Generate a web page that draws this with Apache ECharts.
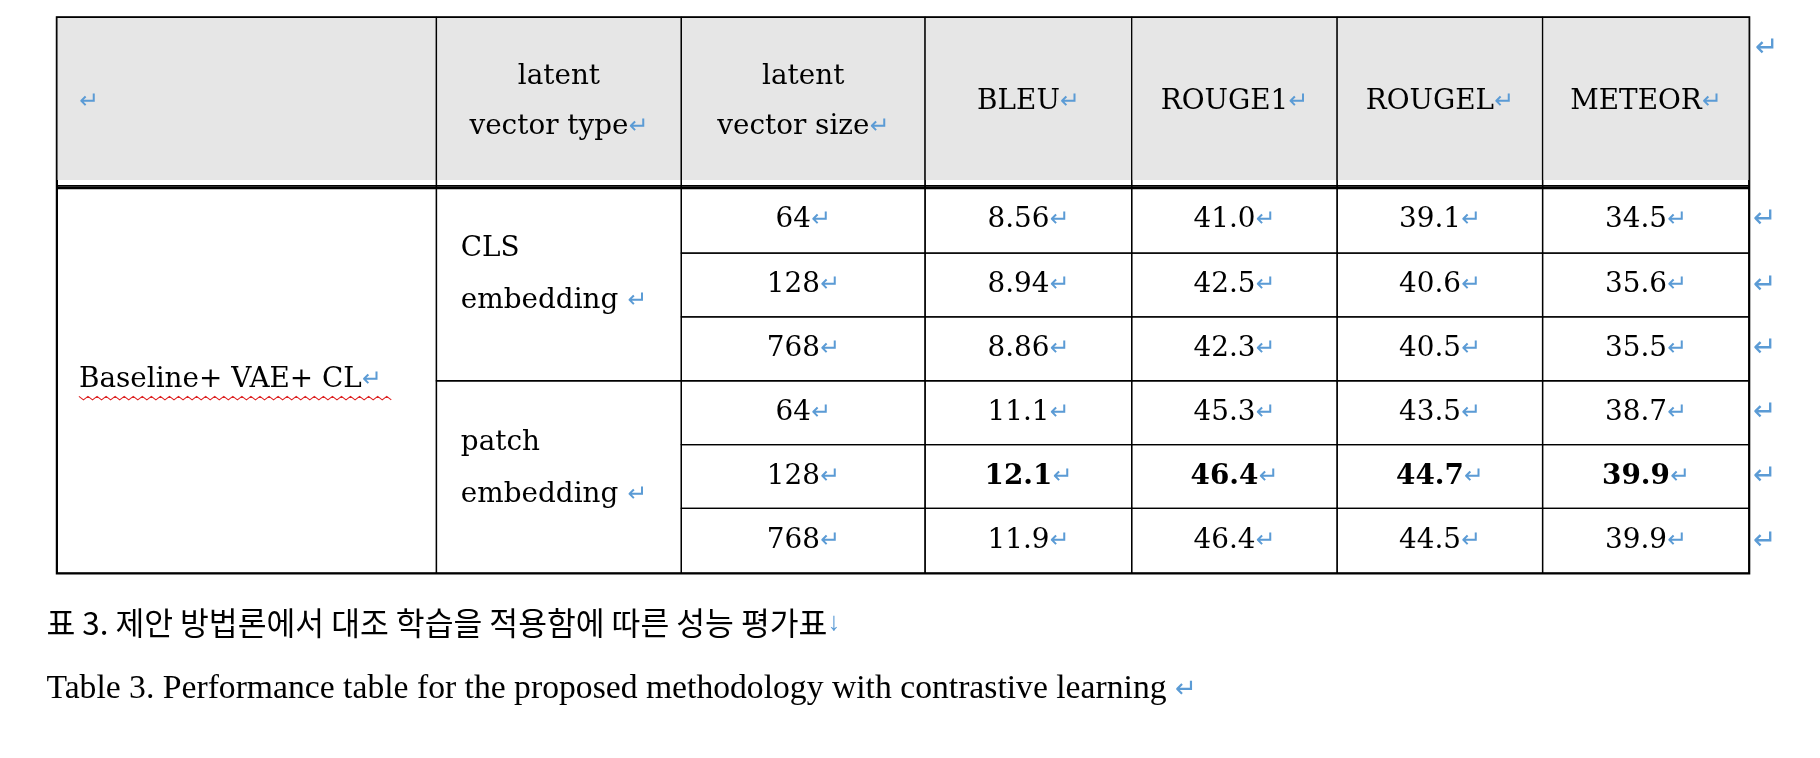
<!DOCTYPE html>
<html><head><meta charset="utf-8">
<script src="https://cdn.jsdelivr.net/npm/echarts@6/dist/echarts.min.js"></script>
<style>html,body{margin:0;background:#fff}#c{width:1820px;height:758px}</style>
</head><body><div id="c"></div>
<script>
// 표 데이터
const headers = ['', 'latent\nvector type', 'latent\nvector size', 'BLEU', 'ROUGE1', 'ROUGEL', 'METEOR']
const method = 'Baseline+ VAE+ CL'
const vecTypes = ['CLS\nembedding ', 'patch\nembedding ']
const vecSizes = ['64', '128', '768', '64', '128', '768']
const bleu   = ['8.56', '8.94', '8.86', '11.1', '12.1', '11.9']
const rouge1 = ['41.0', '42.5', '42.3', '45.3', '46.4', '46.4']
const rougeL = ['39.1', '40.6', '40.5', '43.5', '44.7', '44.5']
const meteor = ['34.5', '35.6', '35.5', '38.7', '39.9', '39.9']
const boldRow = 4
const captionKo = '표 3. 제안 방법론에서 대조 학습을 적용함에 따른 성능 평가표'
const captionEn = 'Table 3. Performance table for the proposed methodology with contrastive learning '

// 레이아웃 (기준 좌표 1568 x 653)
const W = 1568, H = 653
const colEdges = [49, 376, 587, 797, 975, 1152, 1329, 1507]
const rowEdges = [15, 160, 218, 273, 328, 383, 438, 494]
const S = 1820 / W
const FS = 24 * S
const FONT = 'DejaVu Serif'
const ARROW = '#5b9bd5'

// 셀 목록 만들기: [c0, c1, r0, r1, text, align, bold, header]
let cells = []
headers.forEach((h, i) => cells.push([i, i + 1, 0, 1, h, i === 0 ? 'left' : 'center', false, true]))
cells.push([0, 1, 1, 7, method, 'left', false, false])
vecTypes.forEach((t, i) => cells.push([1, 2, 1 + i * 3, 4 + i * 3, t, 'left', false, false]))
const cols = [vecSizes, bleu, rouge1, rougeL, meteor]
cols.forEach((arr, ci) => arr.forEach((v, ri) => cells.push([2 + ci, 3 + ci, 1 + ri, 2 + ri, v, 'center', ci > 0 && ri === boldRow, false])))

function renderCell(params, api) {
  const d = cells[params.dataIndex]
  const p0 = api.coord([colEdges[d[0]], rowEdges[d[2]]])
  const p1 = api.coord([colEdges[d[1]], rowEdges[d[3]]])
  const w = p1[0] - p0[0], h = p1[1] - p0[1]
  const children = []
  if (d[7]) children.push({type: 'rect', shape: {x: p0[0], y: p0[1], width: w, height: h - 5 * S}, style: {fill: '#e6e6e6'}})
  children.push({type: 'rect', shape: {x: p0[0], y: p0[1], width: w, height: h}, style: {fill: 'none', stroke: '#000', lineWidth: 1.3}})
  const lines = d[4].split('\n')
  const txt = lines.map(l => `{${d[6] ? 'b' : 't'}|${l}}`).join('\n') + '{r|↵}'
  const left = d[5] === 'left'
  let tx = left ? p0[0] + (d[0] === 0 ? 19 : 21) * S : p0[0] + w / 2
  children.push({type: 'text', style: {
    x: tx, y: p0[1] + h / 2 + (d[0] === 1 && !d[7] ? -7 * S : 0),
    text: txt, align: left ? 'left' : 'center', verticalAlign: 'middle',
    rich: {
      t: {fontFamily: FONT, fontSize: FS, fill: '#000', lineHeight: (d[0] === 1 && !d[7] ? 45 : 43) * S},
      b: {fontFamily: FONT, fontSize: FS, fontWeight: 'bold', fill: '#000', lineHeight: 43 * S},
      r: {fontSize: FS * 0.85, fill: ARROW, fontFamily: 'DejaVu Sans'}
    }
  }})
  return {type: 'group', children}
}

const chart = echarts.init(document.getElementById('c'))
const x0 = colEdges[0] * S, x1 = colEdges[7] * S
const hy = rowEdges[1] * S
chart.setOption({
  animation: false,
  grid: {left: 0, right: 0, top: 0, bottom: 0},
  xAxis: {type: 'value', min: 0, max: W, show: false},
  yAxis: {type: 'value', min: 0, max: H, inverse: true, show: false},
  series: [{type: 'custom', renderItem: renderCell, data: cells.map((c, i) => [i]), silent: true}],
  graphic: [
    {type: 'rect', shape: {x: x0, y: rowEdges[0] * S, width: x1 - x0, height: (rowEdges[7] - rowEdges[0]) * S}, style: {fill: 'none', stroke: '#000', lineWidth: 2.2}},
    {type: 'line', shape: {x1: x0, y1: hy + 2 * S, x2: x1, y2: hy + 2 * S}, style: {stroke: '#000', lineWidth: 2.5}},
    {type: 'text', style: {x: 1512 * S, y: 42 * S, text: '↵', fontSize: FS, fill: ARROW, verticalAlign: 'middle'}},
    ...rowEdges.slice(1, 7).map((r, i) => ({type: 'text', style: {x: 1510 * S, y: (r + rowEdges[i + 2]) / 2 * S, text: '↵', fontSize: FS, fill: ARROW, verticalAlign: 'middle'}})),
    {type: 'polyline', shape: {points: Array.from({length: 70}, (_, i) => [(68 + i * 3.9) * S, (343 + (i % 2 ? 1.5 : -1.5)) * S])}, style: {stroke: '#d22', lineWidth: 1.2, fill: 'none'}},
    {type: 'text', style: {x: 40 * S, y: 537 * S, rich: {t: {fontFamily: 'Noto Sans CJK KR', fontSize: 27 * S, fill: '#000'}, r: {fontSize: 22 * S, fill: ARROW}}, text: `{t|${captionKo}}{r|↓}`, verticalAlign: 'middle'}},
    {type: 'text', style: {x: 40 * S, y: 594 * S, rich: {t: {fontFamily: 'Liberation Serif', fontSize: 29 * S, fill: '#000'}, r: {fontSize: 22 * S, fill: ARROW}}, text: `{t|${captionEn}}{r|↵}`, verticalAlign: 'middle'}}
  ]
})
</script></body></html>
